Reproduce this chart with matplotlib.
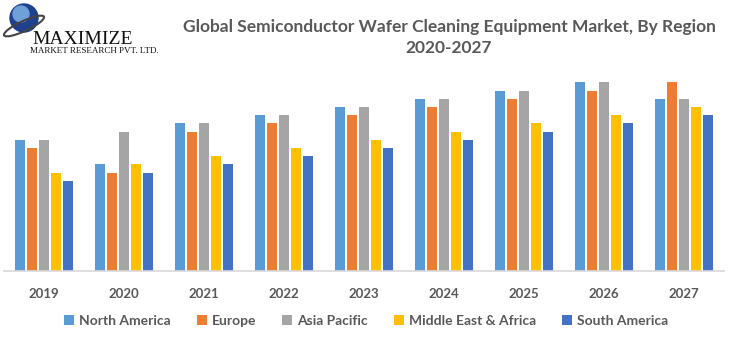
import matplotlib
matplotlib.use("Agg")
import matplotlib.pyplot as plt
from matplotlib.patches import Circle, Ellipse
import numpy as np

plt.rcParams['font.family'] = ['Lato', 'DejaVu Sans']

years = ['2019', '2020', '2021', '2022', '2023', '2024', '2025', '2026', '2027']
regions = ['North America', 'Europe', 'Asia Pacific', 'Middle East & Africa', 'South America']
north_america = [16, 13, 18, 19, 20, 21, 22, 23, 21]
europe = [15, 12, 17, 18, 19, 20, 21, 22, 23]
asia_pacific = [16, 17, 18, 19, 20, 21, 22, 23, 21]
middle_east_africa = [12, 13, 14, 15, 16, 17, 18, 19, 20]
south_america = [11, 12, 13, 14, 15, 16, 17, 18, 19]
colors = ['#5b9bd5', '#ed7d31', '#a5a5a5', '#ffc000', '#4472c4']

series = [north_america, europe, asia_pacific, middle_east_africa, south_america]

W, H = 734, 339
fig = plt.figure(figsize=(W / 100, H / 100), dpi=100)
ax = fig.add_axes([3.5 / W, 1 - 271 / H, 720 / W, 201 / H])

x = np.arange(len(years))
slot = 0.15
for i, (vals, name, c) in enumerate(zip(series, regions, colors)):
    ax.bar(x + (i - 2) * slot, vals, width=0.125, color=c, label=name)

ax.set_xlim(-0.5, len(years) - 0.5)
ax.set_ylim(0, 24.5)
ax.set_yticks([])
ax.set_xticks(x)
ax.set_xticklabels(years, fontsize=9.5, fontweight='bold', color='#595959')
ax.tick_params(axis='x', length=0, pad=12)
for s in ['top', 'right', 'left']:
    ax.spines[s].set_visible(False)
ax.spines['bottom'].set_color('#d9d9d9')
ax.spines['bottom'].set_linewidth(1.2)

leg = fig.legend(loc='center', bbox_to_anchor=(366 / W, 1 - 321 / H), ncol=5,
                 frameon=False, handlelength=0.7, handleheight=0.7,
                 handletextpad=0.35, columnspacing=1.9,
                 prop={'weight': 'bold', 'size': 10})
for t in leg.get_texts():
    t.set_color('#595959')

fig.text(449 / W, 1 - 27 / H, 'Global Semiconductor Wafer Cleaning Equipment Market, By Region',
         ha='center', va='center', fontsize=12.5, fontweight='bold', color='#595959')
fig.text(449 / W, 1 - 48 / H, '2020-2027',
         ha='center', va='center', fontsize=12.5, fontweight='bold', color='#595959')

# logo
lax = fig.add_axes([0, 1 - 60 / H, 200 / W, 60 / H])
lax.set_xlim(0, 200)
lax.set_ylim(60, 0)
lax.axis('off')
lax.add_patch(Circle((24, 18), 14, color='#1f3f8f'))
lax.add_patch(Circle((21, 14), 8, color='#6fa0d8'))
lax.add_patch(Ellipse((24, 26), 44, 10, angle=-25, fill=False, ec='#444444', lw=1.5))
lax.text(32, 40, 'MAXIMIZE', fontsize=14, family='Liberation Serif', color='#111111',
         va='center', ha='left')
lax.text(30, 51, 'MARKET RESEARCH PVT. LTD.', fontsize=6.5, family='Liberation Serif',
         color='#111111', va='center', ha='left')

fig.savefig('out.png', dpi=100)
